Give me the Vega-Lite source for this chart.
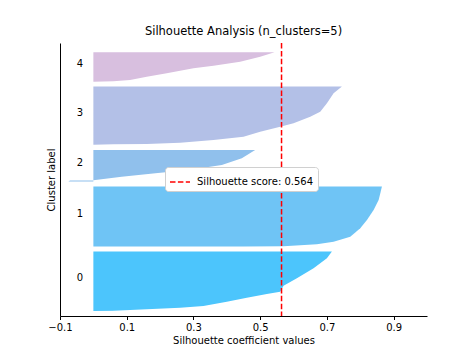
{
  "$schema": "https://vega.github.io/schema/vega-lite/v6.json",
  "width": 367,
  "height": 273,
  "autosize": {"type": "none"},
  "padding": {"left": 60, "top": 43, "right": 47, "bottom": 39},
  "background": "white",
  "config": {
    "view": {"stroke": null},
    "font": "DejaVu Sans",
    "axis": {"grid": false, "domainColor": "black", "tickColor": "black", "labelColor": "black", "titleColor": "black", "labelFont": "DejaVu Sans", "titleFont": "DejaVu Sans", "titleFontWeight": "normal", "domainWidth": 1}
  },
  "title": {"text": "Silhouette Analysis (n_clusters=5)", "fontSize": 11.5, "fontWeight": "normal", "font": "DejaVu Sans", "color": "black", "offset": 5},
  "datasets": {
    "sil": [
      {"cluster": "0", "y": 10, "v": -0.01},
      {"cluster": "0", "y": 10.6, "v": 0.06},
      {"cluster": "0", "y": 13.4, "v": 0.16},
      {"cluster": "0", "y": 16.6, "v": 0.26},
      {"cluster": "0", "y": 20, "v": 0.33},
      {"cluster": "0", "y": 28.6, "v": 0.40},
      {"cluster": "0", "y": 36.6, "v": 0.46},
      {"cluster": "0", "y": 44, "v": 0.52},
      {"cluster": "0", "y": 48.6, "v": 0.56},
      {"cluster": "0", "y": 60.6, "v": 0.57},
      {"cluster": "0", "y": 75.4, "v": 0.61},
      {"cluster": "0", "y": 95.4, "v": 0.66},
      {"cluster": "0", "y": 115.4, "v": 0.70},
      {"cluster": "0", "y": 129, "v": 0.715},
      {"cluster": "1", "y": 139, "v": 0.45},
      {"cluster": "1", "y": 139.6, "v": 0.57},
      {"cluster": "1", "y": 143.6, "v": 0.67},
      {"cluster": "1", "y": 148.6, "v": 0.72},
      {"cluster": "1", "y": 158.6, "v": 0.77},
      {"cluster": "1", "y": 175.4, "v": 0.80},
      {"cluster": "1", "y": 192, "v": 0.82},
      {"cluster": "1", "y": 212, "v": 0.84},
      {"cluster": "1", "y": 232, "v": 0.855},
      {"cluster": "1", "y": 259, "v": 0.865},
      {"cluster": "2", "y": 269, "v": -0.075},
      {"cluster": "2", "y": 271, "v": -0.07},
      {"cluster": "2", "y": 271.5, "v": 0.0},
      {"cluster": "2", "y": 278.6, "v": 0.085},
      {"cluster": "2", "y": 285.4, "v": 0.186},
      {"cluster": "2", "y": 292, "v": 0.285},
      {"cluster": "2", "y": 302, "v": 0.385},
      {"cluster": "2", "y": 315.4, "v": 0.445},
      {"cluster": "2", "y": 332, "v": 0.485},
      {"cluster": "3", "y": 342.6, "v": 0.0},
      {"cluster": "3", "y": 343.4, "v": 0.06},
      {"cluster": "3", "y": 344, "v": 0.16},
      {"cluster": "3", "y": 346.6, "v": 0.26},
      {"cluster": "3", "y": 352, "v": 0.36},
      {"cluster": "3", "y": 358.6, "v": 0.45},
      {"cluster": "3", "y": 368.6, "v": 0.50},
      {"cluster": "3", "y": 378.6, "v": 0.56},
      {"cluster": "3", "y": 385.4, "v": 0.60},
      {"cluster": "3", "y": 398.6, "v": 0.65},
      {"cluster": "3", "y": 408.6, "v": 0.68},
      {"cluster": "3", "y": 425.4, "v": 0.70},
      {"cluster": "3", "y": 445.4, "v": 0.72},
      {"cluster": "3", "y": 459, "v": 0.745},
      {"cluster": "4", "y": 468.6, "v": 0.0},
      {"cluster": "4", "y": 469.4, "v": 0.06},
      {"cluster": "4", "y": 472, "v": 0.11},
      {"cluster": "4", "y": 478.6, "v": 0.16},
      {"cluster": "4", "y": 485.4, "v": 0.22},
      {"cluster": "4", "y": 495.4, "v": 0.30},
      {"cluster": "4", "y": 500.6, "v": 0.36},
      {"cluster": "4", "y": 508.6, "v": 0.44},
      {"cluster": "4", "y": 518.6, "v": 0.50},
      {"cluster": "4", "y": 527.4, "v": 0.543}
    ],
    "labels": [
      {"cluster": "0", "ymid": 69.5},
      {"cluster": "1", "ymid": 199},
      {"cluster": "2", "ymid": 300.5},
      {"cluster": "3", "ymid": 401},
      {"cluster": "4", "ymid": 498}
    ],
    "score": [
      {"name": "Silhouette score: 0.564", "score": 0.564}
    ]
  },
  "layer": [
    {
      "data": {"name": "sil"},
      "mark": {"type": "area", "orient": "horizontal"},
      "encoding": {
        "y": {"field": "y", "type": "quantitative", "scale": {"domain": [0, 546], "nice": false, "zero": false},
              "axis": {"title": "Cluster label", "labels": false, "ticks": false, "titleFontSize": 10, "titlePadding": 4}},
        "x": {"field": "v", "type": "quantitative", "stack": null,
              "scale": {"domain": [-0.1, 1.0], "nice": false, "zero": false},
              "axis": {"title": "Silhouette coefficient values", "values": [-0.1, 0.1, 0.3, 0.5, 0.7, 0.9], "format": ".1f",
                       "labelExpr": "replace(datum.label, '-', '\u2212')", "labelFontSize": 10, "titleFontSize": 10,
                       "tickSize": 3.5, "labelPadding": 3, "titlePadding": 3, "labelFlush": false}},
        "color": {"field": "cluster", "type": "nominal", "legend": null,
                  "scale": {"domain": ["0", "1", "2", "3", "4"], "range": ["#4cc5fc", "#6fc4f5", "#90c0ec", "#b3c0e7", "#d8bfdf"]}}
      }
    },
    {
      "data": {"name": "labels"},
      "mark": {"type": "text", "align": "left", "baseline": "alphabetic", "fontSize": 10, "font": "DejaVu Sans", "color": "black"},
      "encoding": {
        "x": {"datum": -0.05, "type": "quantitative"},
        "y": {"field": "ymid", "type": "quantitative"},
        "text": {"field": "cluster", "type": "nominal"}
      }
    },
    {
      "data": {"name": "score"},
      "mark": {"type": "rule", "strokeDash": [5.5, 2.4], "strokeWidth": 1.5},
      "encoding": {
        "x": {"field": "score", "type": "quantitative"},
        "stroke": {"field": "name", "type": "nominal",
                   "scale": {"range": ["#ff0000"]},
                   "legend": {"title": null, "orient": "none", "legendX": 105, "legendY": 124,
                              "fillColor": "white", "strokeColor": "#d0d0d0", "cornerRadius": 3, "padding": 4,
                              "labelFontSize": 10, "labelFont": "DejaVu Sans", "labelColor": "black",
                              "symbolType": "stroke", "symbolSize": 400, "symbolStrokeWidth": 1.5, "symbolDash": [5.5, 2.4],
                              "symbolStrokeColor": "#ff0000", "labelOffset": 6}}
      }
    }
  ]
}
